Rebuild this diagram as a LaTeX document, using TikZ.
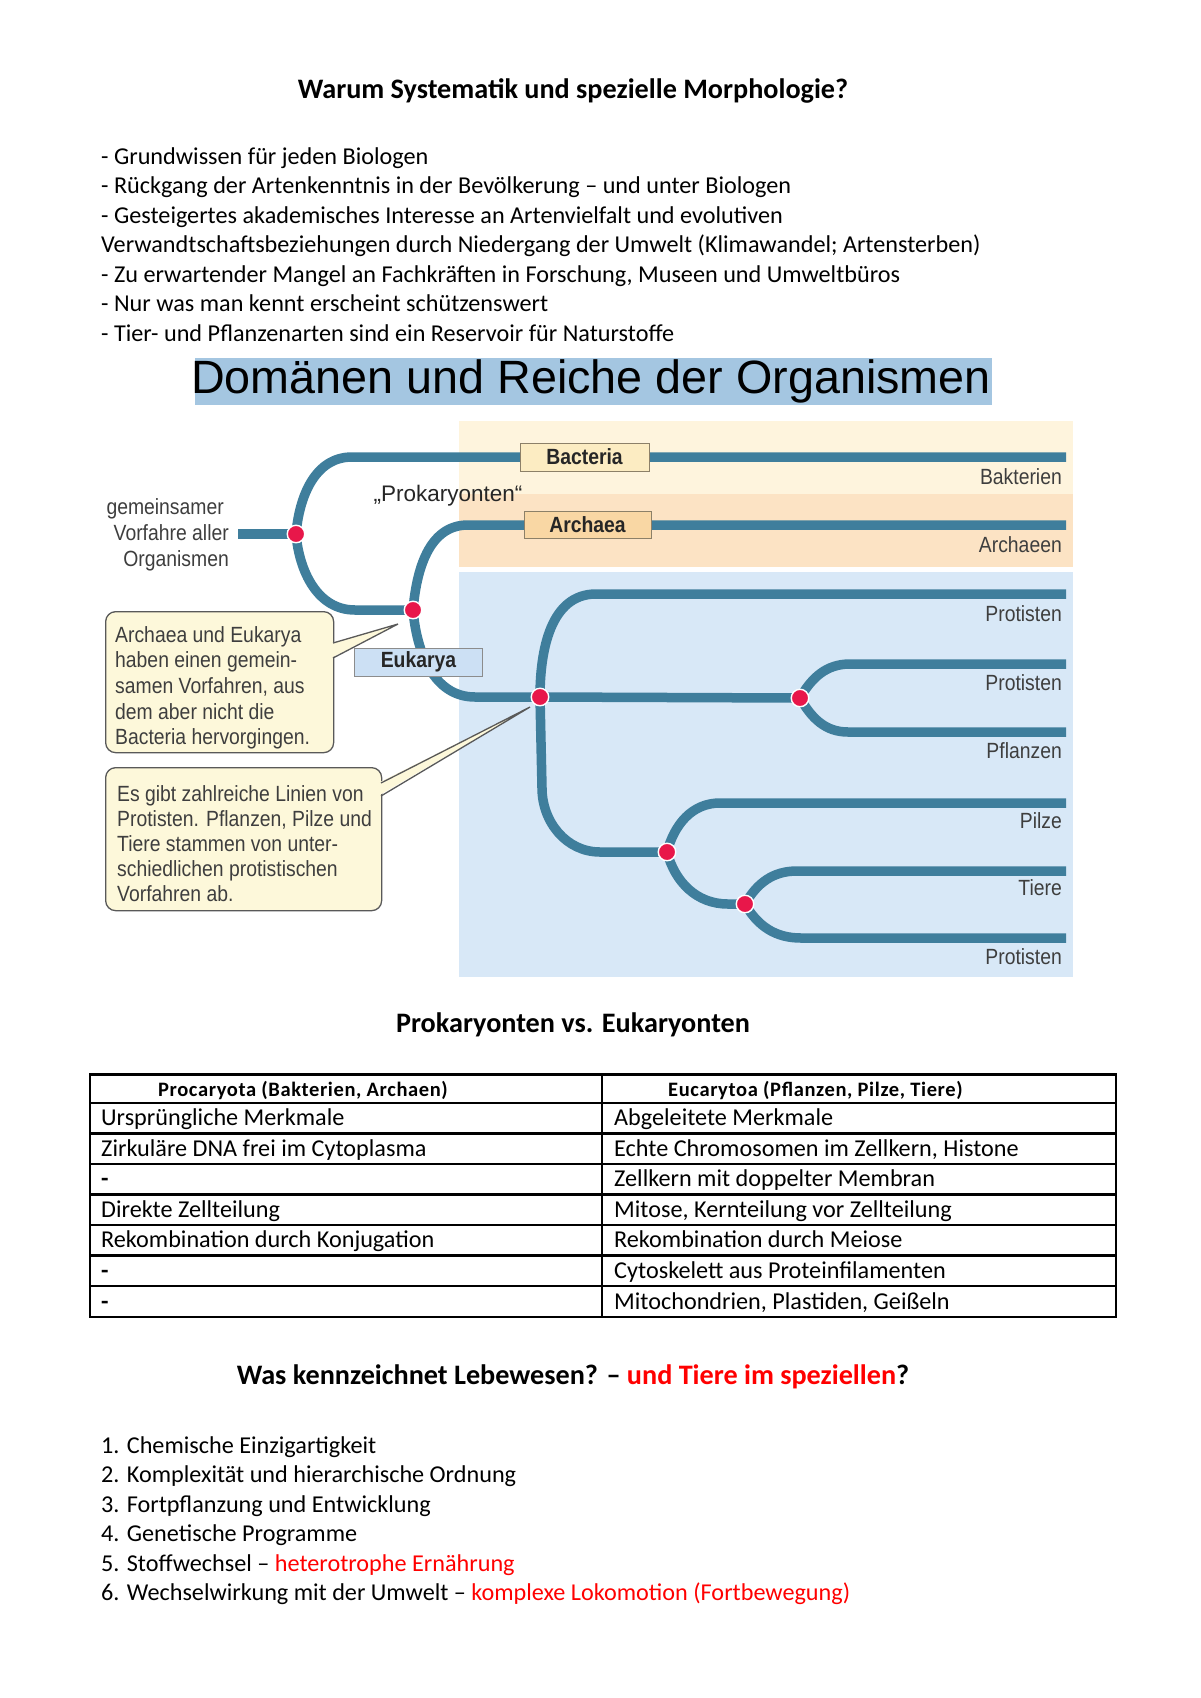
\documentclass[tikz,border=0pt]{standalone}
\usepackage{fontspec}
\setmainfont{Carlito}
\newfontfamily\arialf{Liberation Sans}
\newfontfamily\narrowf[FakeStretch=0.88]{Liberation Sans}
\definecolor{linec}{HTML}{3F7E9C}
\definecolor{dotc}{HTML}{E8174A}
\definecolor{bacpanel}{HTML}{FEF4DD}
\definecolor{arcpanel}{HTML}{FCE3C4}
\definecolor{eukpanel}{HTML}{D8E8F7}
\definecolor{bacbox}{HTML}{FCECC2}
\definecolor{arcbox}{HTML}{F9D7A4}
\definecolor{eukbox}{HTML}{CCE0F4}
\definecolor{callfill}{HTML}{FDF8DA}
\definecolor{band}{HTML}{A4C6E1}
\definecolor{labgray}{HTML}{3E3E3E}
\definecolor{boxedge}{HTML}{8C8068}
\begin{document}
\begin{tikzpicture}[x=1pt,y=1pt,
  body/.style={anchor=base west, inner sep=0pt, font=\fontsize{24.2}{29}\selectfont},
  ttl/.style={anchor=base, inner sep=0pt, font=\fontsize{28.2}{34}\selectfont\bfseries},
  hdr/.style={anchor=base west, inner sep=0pt, font=\fontsize{20.5}{24}\selectfont\bfseries\addfontfeature{LetterSpace=3}},
  branch/.style={line width=9.5pt, draw=linec},
  dotn/.style={circle, fill=dotc, draw=white, line width=1.4pt, minimum size=17.5pt, inner sep=0pt},
  dlabel/.style={anchor=base east, inner sep=0pt, text=labgray, font=\narrowf\fontsize{22}{26}\selectfont},
  ltext/.style={anchor=base west, inner sep=0pt, text=labgray, font=\narrowf\fontsize{22}{26}\selectfont},
  dombox/.style={draw=boxedge, line width=1pt, inner sep=0pt, text=black!85, font=\narrowf\bfseries\fontsize{22}{26}\selectfont},
  callout/.style={draw=black!65, fill=callfill, rounded corners=10pt, line width=1.3pt, inner sep=0pt},
  tline/.style={line width=2.2pt, draw=black}
]
\useasboundingbox (0,0) rectangle (1200,-1698);
\fill[white] (0,0) rectangle (1200,-1698);

% ---------- top section ----------
\node[ttl] (title1) at (573,-98) {Warum Systematik und spezielle Morphologie?};
\node[body] (l1) at (101,-164) {- Grundwissen für jeden Biologen};
\node[body] (l2) at (101,-193.5) {- Rückgang der Artenkenntnis in der Bevölkerung – und unter Biologen};
\node[body] (l3) at (101,-223) {- Gesteigertes akademisches Interesse an Artenvielfalt und evolutiven};
\node[body] (l4) at (101,-252.5) {Verwandtschaftsbeziehungen durch Niedergang der Umwelt (Klimawandel; Artensterben)};
\node[body] (l5) at (101,-282) {- Zu erwartender Mangel an Fachkräften in Forschung, Museen und Umweltbüros};
\node[body] (l6) at (101,-311.5) {- Nur was man kennt erscheint schützenswert};
\node[body] (l7) at (101,-341) {- Tier- und Pflanzenarten sind ein Reservoir für Naturstoffe};

% ---------- diagram ----------
\fill[band] (195,-358) rectangle (992,-405);
\node[anchor=base west, inner sep=0pt, font=\arialf\fontsize{46.7}{50}\selectfont] (dtitle) at (191,-393) {Domänen und Reiche der Organismen};

\fill[bacpanel] (459,-421) rectangle (1073,-494);
\fill[arcpanel] (459,-494) rectangle (1073,-567);
\fill[eukpanel] (459,-572) rectangle (1073,-977);

% coordinates of the tree
\coordinate (s0) at (238,-534);
\coordinate (n1) at (296,-534);
\coordinate (n2) at (413,-610);
\coordinate (n3) at (540,-697);
\coordinate (n4) at (800,-698);
\coordinate (n5) at (667,-852);
\coordinate (n6) at (745,-904);
\coordinate (b1) at (352,-457);  \coordinate (be) at (1066,-457);
\coordinate (lo1) at (355,-610);
\coordinate (a1) at (468,-525);  \coordinate (ae) at (1066,-525);
\coordinate (e1) at (475,-697);
\coordinate (p1) at (596,-594);  \coordinate (pe) at (1066,-594);
\coordinate (q1) at (850,-664);  \coordinate (qe) at (1066,-664);
\coordinate (r1) at (848,-732);  \coordinate (re) at (1066,-732);
\coordinate (v1) at (542,-788);  \coordinate (v2) at (600,-852);
\coordinate (f1) at (720,-803);  \coordinate (fe) at (1066,-803);
\coordinate (g1) at (728,-904);
\coordinate (t1) at (797,-871);  \coordinate (te) at (1066,-871);
\coordinate (u1) at (801,-938);  \coordinate (ue) at (1066,-938);

\draw[branch] (s0) -- (n1);
\draw[branch] (n1) to[out=85,in=180] (b1) -- (be);
\draw[branch] (n1) to[out=-85,in=180] (lo1) -- (n2);
\draw[branch] (n2) to[out=85,in=180] (a1) -- (ae);
\draw[branch] (n2) to[out=-85,in=180] (e1) -- (n3);
\draw[branch] (n3) to[out=90,in=180] (p1) -- (pe);
\draw[branch] (n3) -- (n4);
\draw[branch] (n4) to[out=60,in=180] (q1) -- (qe);
\draw[branch] (n4) to[out=-60,in=180] (r1) -- (re);
\draw[branch] (n3) -- (v1) to[out=-90,in=180] (v2) -- (n5);
\draw[branch] (n5) to[out=75,in=180] (f1) -- (fe);
\draw[branch] (n5) to[out=-75,in=180] (g1) -- (n6);
\draw[branch] (n6) to[out=60,in=180] (t1) -- (te);
\draw[branch] (n6) to[out=-60,in=180] (u1) -- (ue);

\node[dombox, fill=bacbox, minimum width=129pt, minimum height=28pt] (bac) at (584.5,-457) {Bacteria};
\node[dombox, fill=arcbox, minimum width=127pt, minimum height=27pt] (arc) at (587.5,-524.5) {Archaea};
\node[dombox, fill=eukbox, minimum width=128pt, minimum height=28pt, draw=black!45] (euk) at (418.5,-662) {Eukarya};

\node[dotn] (dot1) at (n1) {};
\node[dotn] (dot2) at (n2) {};
\node[dotn] (dot3) at (n3) {};
\node[dotn] (dot4) at (n4) {};
\node[dotn] (dot5) at (n5) {};
\node[dotn] (dot6) at (n6) {};

\node[anchor=base, inner sep=0pt, text=black!85, font=\arialf\fontsize{22.5}{26}\selectfont] (prok) at (448,-501.5) {„Prokaryonten“};

\node[anchor=base east, inner sep=0pt, text=labgray, font=\narrowf\fontsize{22}{26}\selectfont] (anc1) at (224,-514) {gemeinsamer};
\node[anchor=base east, inner sep=0pt, text=labgray, font=\narrowf\fontsize{22}{26}\selectfont] (anc2) at (229,-540) {Vorfahre aller};
\node[anchor=base east, inner sep=0pt, text=labgray, font=\narrowf\fontsize{22}{26}\selectfont] (anc3) at (229,-566) {Organismen};

\node[dlabel] (lb1) at (1062,-484) {Bakterien};
\node[dlabel] (lb2) at (1062,-552) {Archaeen};
\node[dlabel] (lb3) at (1062,-621) {Protisten};
\node[dlabel] (lb4) at (1062,-690) {Protisten};
\node[dlabel] (lb5) at (1062,-758) {Pflanzen};
\node[dlabel] (lb6) at (1062,-828) {Pilze};
\node[dlabel] (lb7) at (1062,-895) {Tiere};
\node[dlabel] (lb8) at (1062,-964.5) {Protisten};

% callout 1
\node[callout, anchor=north west, minimum width=228pt, minimum height=141pt] (cb1) at (105,-611) {};
\coordinate (tip1) at (398,-624);
\fill[callfill] (331,-643) -- (tip1) -- (331,-658) -- cycle;
\draw[black!65, line width=1.3pt, line join=miter] (333,-643) -- (tip1) -- (333,-658);
\node[ltext] (c1a) at (115,-642) {Archaea und Eukarya};
\node[ltext] (c1b) at (115,-667.7) {haben einen gemein-};
\node[ltext] (c1c) at (115,-693.4) {samen Vorfahren, aus};
\node[ltext] (c1d) at (115,-719.1) {dem aber nicht die};
\node[ltext] (c1e) at (115,-744.8) {Bacteria hervorgingen.};

% callout 2
\node[callout, anchor=north west, minimum width=276pt, minimum height=143pt] (cb2) at (105,-767) {};
\coordinate (tip2) at (530,-707);
\fill[callfill] (378,-783) -- (tip2) -- (378,-796) -- cycle;
\draw[black!65, line width=1.3pt, line join=miter] (381,-783) -- (tip2) -- (381,-796);
\node[ltext] (c2a) at (117,-801) {Es gibt zahlreiche Linien von};
\node[ltext] (c2b) at (117,-826) {Protisten. Pflanzen, Pilze und};
\node[ltext] (c2c) at (117,-851) {Tiere stammen von unter-};
\node[ltext] (c2d) at (117,-876) {schiedlichen protistischen};
\node[ltext] (c2e) at (117,-901) {Vorfahren ab.};

% ---------- table ----------
\node[ttl] (title2) at (573,-1032) {Prokaryonten vs. Eukaryonten};
\draw[tline] (90,-1074.5) rectangle (1116,-1317);
\foreach \yy in {1103,1133.5,1164,1194.5,1225,1255.5,1286}
  \draw[tline] (90,-\yy) -- (1116,-\yy);
\draw[tline] (602,-1074.5) -- (602,-1317);

\node[hdr] (h1) at (158,-1096) {Procaryota (Bakterien, Archaen)};
\node[hdr] (h2) at (668,-1096) {Eucarytoa (Pflanzen, Pilze, Tiere)};

\node[body] (ta1) at (101,-1125.75) {Ursprüngliche Merkmale};
\node[body] (tb1) at (614,-1125.75) {Abgeleitete Merkmale};
\node[body] (ta2) at (101,-1156.25) {Zirkuläre DNA frei im Cytoplasma};
\node[body] (tb2) at (614,-1156.25) {Echte Chromosomen im Zellkern, Histone};
\node[body] (ta3) at (101,-1186.75) {\bfseries -};
\node[body] (tb3) at (614,-1186.75) {Zellkern mit doppelter Membran};
\node[body] (ta4) at (101,-1217.25) {Direkte Zellteilung};
\node[body] (tb4) at (614,-1217.25) {Mitose, Kernteilung vor Zellteilung};
\node[body] (ta5) at (101,-1247.75) {Rekombination durch Konjugation};
\node[body] (tb5) at (614,-1247.75) {Rekombination durch Meiose};
\node[body] (ta6) at (101,-1278.25) {\bfseries -};
\node[body] (tb6) at (614,-1278.25) {Cytoskelett aus Proteinfilamenten};
\node[body] (ta7) at (101,-1309) {\bfseries -};
\node[body] (tb7) at (614,-1309) {Mitochondrien, Plastiden, Geißeln};

% ---------- bottom list ----------
\node[ttl] (title3) at (573,-1384) {Was kennzeichnet Lebewesen? – \textcolor{red}{und Tiere im speziellen}?};
\node[body] (k1) at (101,-1453) {1. Chemische Einzigartigkeit};
\node[body] (k2) at (101,-1482.5) {2. Komplexität und hierarchische Ordnung};
\node[body] (k3) at (101,-1512) {3. Fortpflanzung und Entwicklung};
\node[body] (k4) at (101,-1541.5) {4. Genetische Programme};
\node[body] (k5) at (101,-1571) {5. Stoffwechsel – \textcolor{red}{heterotrophe Ernährung}};
\node[body] (k6) at (101,-1600.5) {6. Wechselwirkung mit der Umwelt – \textcolor{red}{komplexe Lokomotion (Fortbewegung)}};
\end{tikzpicture}
\end{document}
